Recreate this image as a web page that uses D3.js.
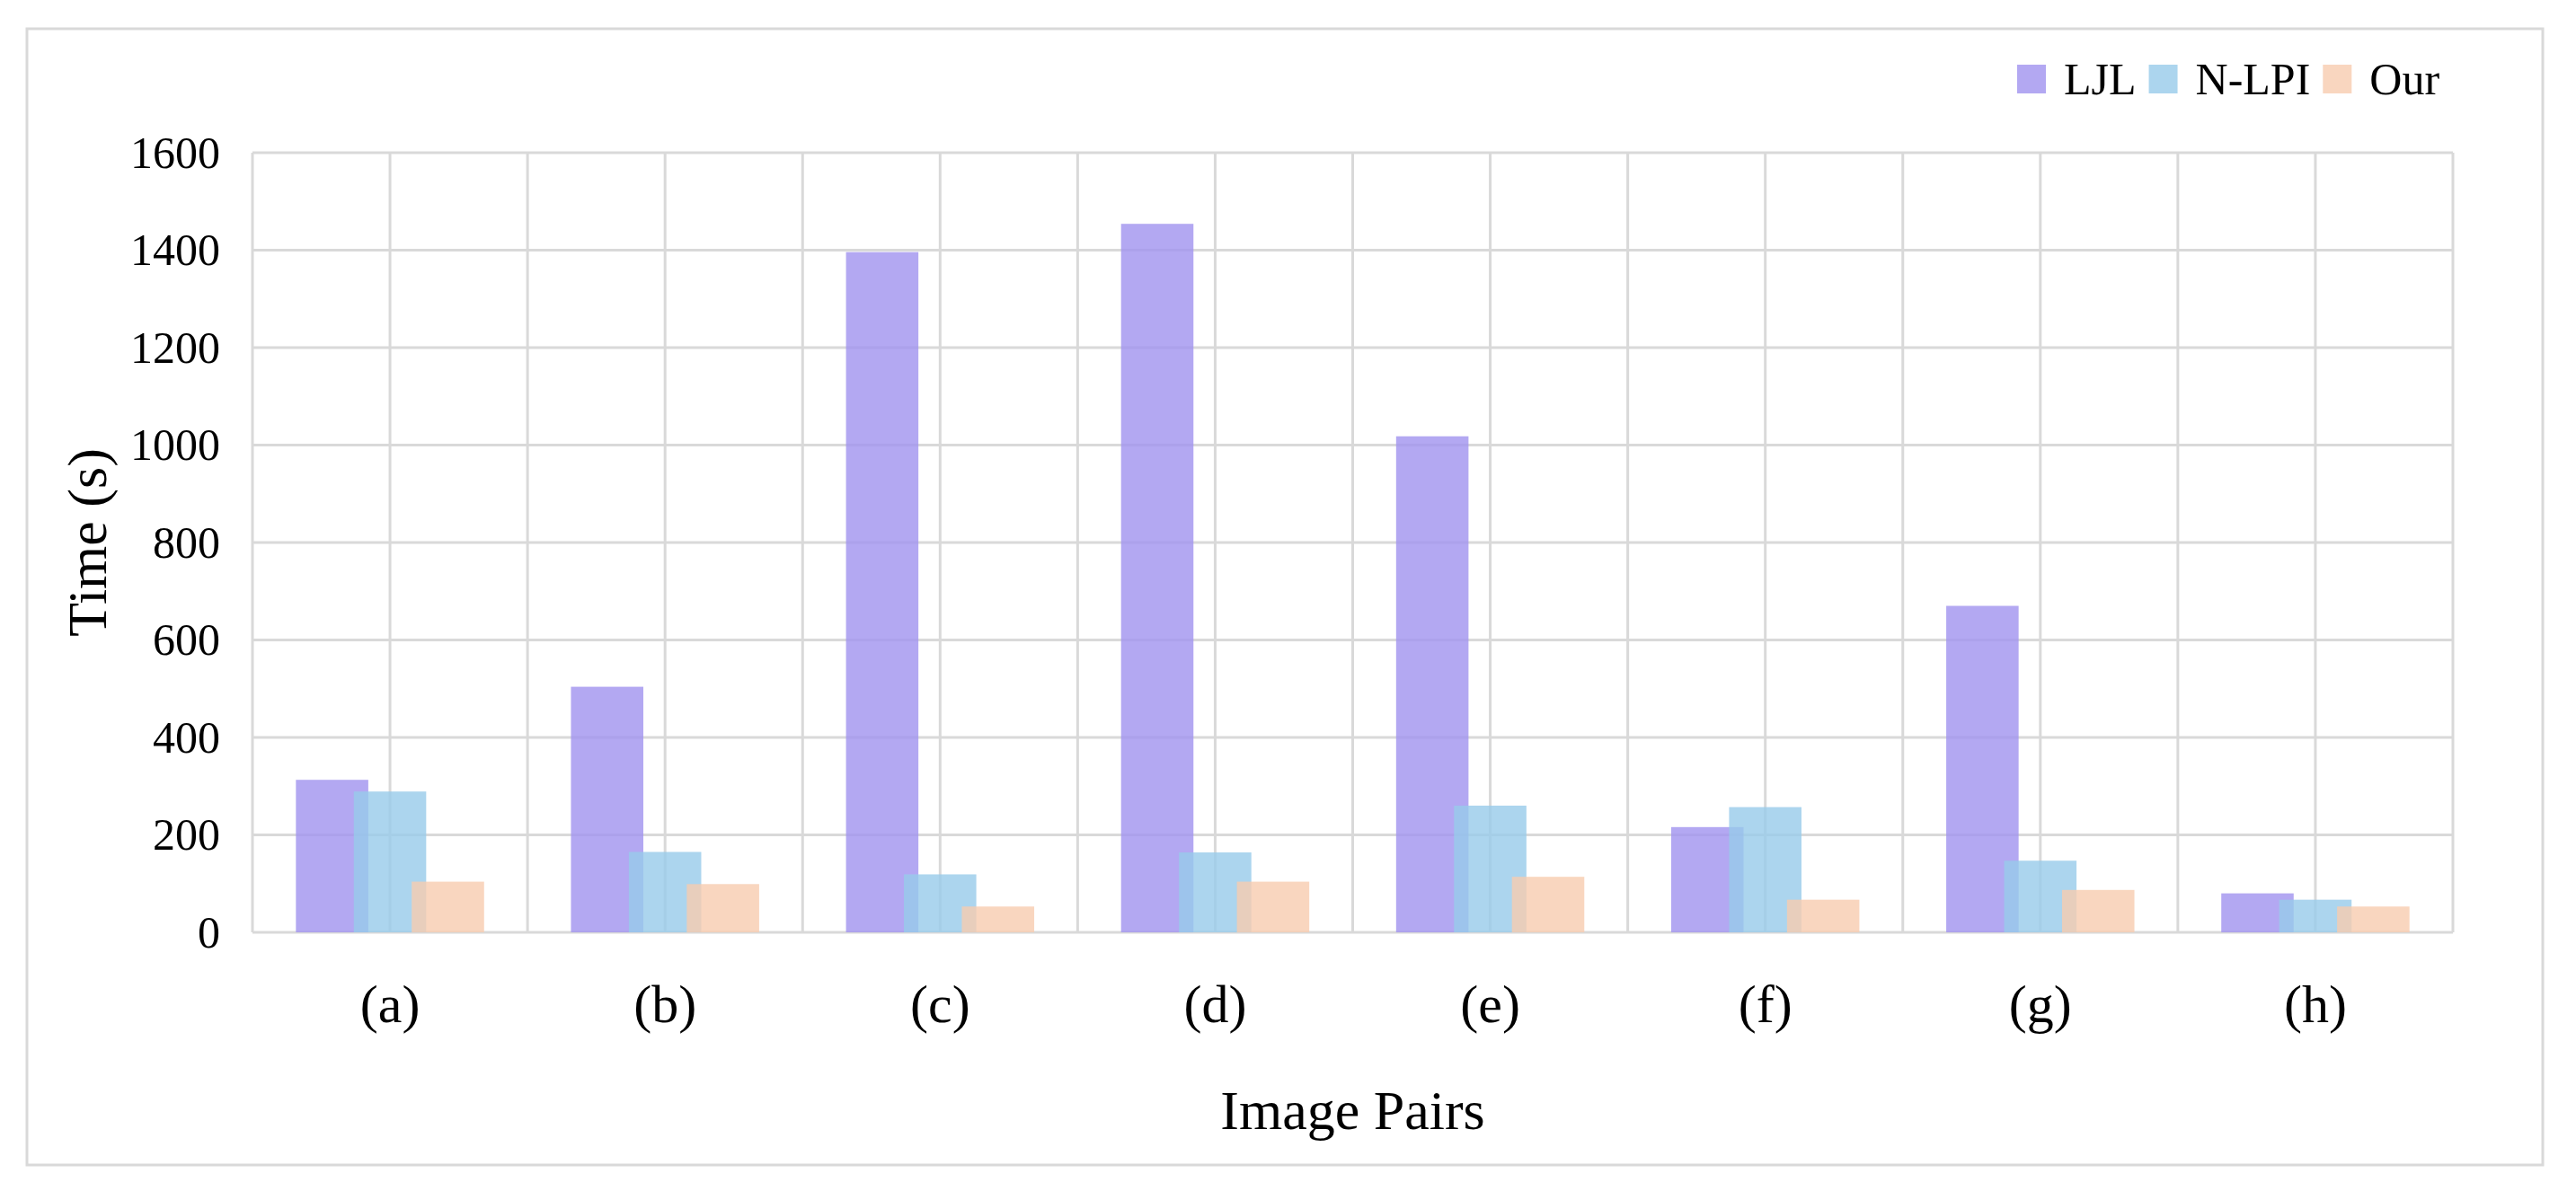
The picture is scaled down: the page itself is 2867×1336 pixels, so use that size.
<!DOCTYPE html>
<html>
<head>
<meta charset="utf-8">
<script src="https://cdn.jsdelivr.net/npm/d3@7"></script>
<style>
  body { margin: 0; background: #fff; }
  text { font-family: "Liberation Serif", "Times New Roman", serif; fill: #000; }
</style>
</head>
<body>
<div id="graph"></div>
<script>
// Time comparison bar chart

// Data
let categories = ["(a)", "(b)", "(c)", "(d)", "(e)", "(f)", "(g)", "(h)"];
let seriesNames = ["LJL", "N-LPI", "Our"];
let ljl = [313, 504, 1396, 1454, 1018, 216, 670, 80];
let nlpi = [289, 165, 119, 164, 260, 257, 147, 67];
let our = [104, 99, 53, 104, 114, 67, 87, 53];
let yTicks = [0, 200, 400, 600, 800, 1000, 1200, 1400, 1600];

let colors = ["#a092ef", "#97cbea", "#f8ccaf"];

let svgWidth = 2867;
let svgHeight = 1336;

let margin = {
  top: 170,
  right: 137,
  bottom: 298,
  left: 281
};

let width = svgWidth - margin.left - margin.right;
let height = svgHeight - margin.top - margin.bottom;

let svg = d3.select("#graph")
  .append("svg")
  .attr("width", svgWidth)
  .attr("height", svgHeight);

// outer frame
svg.append("rect")
  .attr("x", 30)
  .attr("y", 32)
  .attr("width", 2800)
  .attr("height", 1265)
  .attr("fill", "#fff")
  .attr("stroke", "#d9d9d9")
  .attr("stroke-width", 3);

let chartGroup = svg.append("g")
  .attr("transform", `translate(${margin.left}, ${margin.top})`);

// Scales
let xScale = d3.scaleBand().domain(categories).range([0, width]).padding(0);
let yScale = d3.scaleLinear().domain([0, 1600]).range([height, 0]);

// gap width 120%, overlap 20% (excel style)
let bw = xScale.bandwidth();
let barWidth = bw / (3 - 2 * 0.2 + 1.2);
let step = barWidth * 0.8;
let groupOffset = (bw - (barWidth + 2 * step)) / 2;

// Gridlines
// ==============================
chartGroup.append("g")
  .selectAll("line")
  .data(yTicks)
  .enter()
  .append("line")
  .attr("x1", 0)
  .attr("x2", width)
  .attr("y1", d => yScale(d))
  .attr("y2", d => yScale(d))
  .attr("stroke", "#d9d9d9")
  .attr("stroke-width", 3);

let vLines = [];
categories.forEach(c => {
  vLines.push(xScale(c));
  vLines.push(xScale(c) + bw / 2);
});
vLines.push(width);

chartGroup.append("g")
  .selectAll("line")
  .data(vLines)
  .enter()
  .append("line")
  .attr("x1", d => d)
  .attr("x2", d => d)
  .attr("y1", 0)
  .attr("y2", height)
  .attr("stroke", "#d9d9d9")
  .attr("stroke-width", 3);

// Bars
// ==============================
let series = [ljl, nlpi, our];
series.forEach((values, i) => {
  chartGroup.append("g")
    .selectAll("rect")
    .data(values)
    .enter()
    .append("rect")
    .attr("x", (d, j) => xScale(categories[j]) + groupOffset + i * step)
    .attr("y", d => yScale(d))
    .attr("width", barWidth)
    .attr("height", d => height - yScale(d))
    .attr("fill", colors[i])
    .attr("opacity", 0.8);
});

// Axes
// ==============================
let xAxis = d3.axisBottom(xScale).tickSize(0);
let yAxis = d3.axisLeft(yScale)
  .tickValues(yTicks)
  .tickFormat(d3.format("d"))
  .tickSize(0)
  .tickPadding(36);

let xg = chartGroup.append("g")
  .attr("transform", `translate(0, ${height})`)
  .call(xAxis);
xg.select(".domain").remove();
xg.selectAll("text")
  .attr("y", 100)
  .attr("dy", 0)
  .attr("font-size", "60px")
  .attr("font-family", "Liberation Serif")
  .attr("fill", "#000");

let yg = chartGroup.append("g")
  .call(yAxis);
yg.select(".domain").remove();
yg.selectAll("text")
  .attr("font-size", "50px")
  .attr("font-family", "Liberation Serif")
  .attr("fill", "#000");

// Axis labels
chartGroup.append("text")
  .attr("transform", `translate(${118 - margin.left}, ${height / 2}) rotate(-90)`)
  .attr("text-anchor", "middle")
  .attr("font-size", "62px")
  .text("Time (s)");

chartGroup.append("text")
  .attr("x", width / 2)
  .attr("y", 1257 - margin.top)
  .attr("text-anchor", "middle")
  .attr("font-size", "62px")
  .text("Image Pairs");

// Legend
// ==============================
let legend = svg.append("g").attr("transform", "translate(2245, 0)");
let lx = 0;
seriesNames.forEach((name, i) => {
  legend.append("rect")
    .attr("x", lx)
    .attr("y", 72)
    .attr("width", 32)
    .attr("height", 32)
    .attr("fill", colors[i])
    .attr("opacity", 0.8);
  let t = legend.append("text")
    .attr("x", lx + 52)
    .attr("y", 105)
    .attr("font-size", "50px")
    .text(name);
  lx = lx + 52 + t.node().getComputedTextLength() + 14;
});
</script>
</body>
</html>
